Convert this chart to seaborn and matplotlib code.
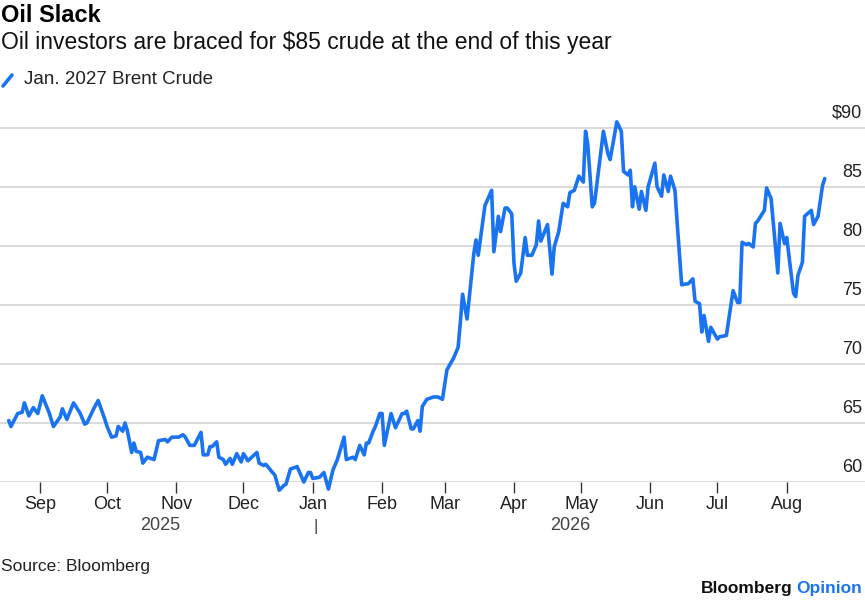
import numpy as np
import pandas as pd
import matplotlib
matplotlib.use("Agg")
import matplotlib.pyplot as plt
import matplotlib.transforms as mtransforms
import seaborn as sns

# === DATA: days since 2025-09-01 and Brent Jan-2027 price ===
day_offsets = [-14, -13, -10, -8, -7, -5, -3, -1, 1, 4, 6, 9, 10, 12, 15, 18, 20, 21, 24, 26,
               29, 30, 32, 34, 35, 37, 38, 39, 41, 42, 43, 45, 46, 48, 51, 53, 56, 57, 59, 62,
               64, 65, 67, 69, 72, 73, 75, 76, 77, 79, 80, 82, 83, 85, 86, 88, 90, 91, 93, 97,
               98, 100, 101, 104, 105, 107, 109, 110, 112, 115, 118, 120, 121, 122, 125, 127, 129, 131, 133, 136,
               137, 140, 141, 143, 145, 146, 147, 149, 150, 152, 153, 154, 157, 159, 162, 163, 164, 166, 167, 169,
               170, 171, 173, 176, 178, 180, 182, 185, 187, 188, 189, 191, 194, 195, 196, 199, 202, 203, 205, 206,
               208, 209, 211, 212, 213, 215, 217, 218, 220, 222, 223, 224, 227, 229, 230, 232, 234, 236, 237, 239,
               241, 243, 244, 245, 247, 248, 252, 254, 255, 258, 260, 261, 263, 264, 265, 266, 268, 269, 271, 272,
               275, 276, 278, 279, 281, 282, 284, 285, 287, 290, 292, 293, 295, 296, 297, 299, 300, 303, 304, 307,
               308, 310, 312, 313, 314, 316, 317, 319, 320, 321, 324, 325, 327, 330, 331, 333, 334, 337, 338, 339,
               341, 342, 345, 346, 348, 350, 351]
prices = [65.2, 64.7, 65.8, 65.9, 66.7, 65.6, 66.3, 65.8, 67.3, 65.9, 64.7, 65.5, 66.2, 65.3, 66.7, 65.8, 64.9, 65.0, 66.2, 66.9,
          65.3, 64.7, 63.8, 63.9, 64.7, 64.3, 65.0, 64.4, 62.5, 63.3, 62.6, 62.5, 61.6, 62.1, 61.9, 63.5, 63.6, 63.4, 63.8, 63.8,
          64.0, 63.8, 63.1, 63.1, 64.2, 62.3, 62.3, 63.0, 63.0, 63.4, 62.1, 61.9, 61.5, 62.0, 61.5, 62.4, 61.7, 62.4, 61.8, 62.5,
          61.6, 61.4, 61.5, 60.8, 60.6, 59.3, 59.7, 59.8, 61.1, 61.3, 60.0, 60.8, 60.8, 60.3, 60.4, 60.8, 59.4, 61.0, 61.9, 63.8,
          61.9, 62.1, 61.9, 63.1, 62.3, 63.3, 63.3, 64.3, 64.7, 65.8, 65.8, 63.1, 65.8, 64.6, 65.8, 65.8, 66.0, 64.5, 64.5, 65.2,
          64.3, 66.4, 67.0, 67.2, 67.2, 67.0, 69.5, 70.5, 71.4, 73.5, 75.9, 73.8, 79.3, 80.5, 79.2, 83.4, 84.7, 79.5, 82.5, 81.2,
          83.2, 83.2, 82.7, 78.5, 77.0, 77.7, 80.7, 79.2, 79.2, 80.1, 82.1, 80.4, 81.8, 77.6, 79.9, 81.2, 83.6, 83.3, 84.5, 84.7,
          85.9, 85.4, 89.7, 88.6, 83.3, 83.6, 89.7, 87.8, 87.3, 90.5, 89.7, 86.3, 86.0, 86.4, 83.3, 85.0, 83.1, 84.6, 83.0, 85.0,
          87.0, 85.0, 84.2, 86.0, 84.6, 85.9, 84.7, 81.9, 76.7, 76.8, 77.2, 75.3, 75.1, 72.7, 74.1, 71.9, 73.1, 72.1, 72.3, 72.4,
          73.7, 76.2, 75.2, 75.2, 80.3, 80.1, 80.2, 79.9, 81.9, 82.1, 83.0, 84.9, 84.0, 77.7, 81.9, 80.2, 80.7, 76.0, 75.7, 77.5,
          78.6, 82.5, 83.0, 81.8, 82.5, 85.1, 85.7]
y_ticks = [60, 65, 70, 75, 80, 85, 90]
y_labels = ["60", "65", "70", "75", "80", "85", "$90"]
month_labels = ["Sep", "Oct", "Nov", "Dec", "Jan", "Feb", "Mar", "Apr", "May", "Jun", "Jul", "Aug"]

START = pd.Timestamp("2025-09-01")
df = pd.DataFrame({"date": START + pd.to_timedelta(day_offsets, unit="D"), "price": prices})
month_starts = pd.date_range("2025-09-01", periods=12, freq="MS")

BLUE = "#1a73f0"
GRID = "#d4d4d4"

sns.set_theme(style="white")
plt.rcParams["font.family"] = ["Liberation Sans", "DejaVu Sans"]

fig = plt.figure(figsize=(8.65, 6.01), dpi=100)
W, H = 865, 601
ax = fig.add_axes([0, 1 - 482 / H, 1, (482 - 110) / H])

sns.lineplot(data=df, x="date", y="price", ax=ax, color=BLUE, linewidth=2.6, clip_on=False)

ax.set_xlim(START - pd.Timedelta(days=17.9), START + pd.Timedelta(days=369))
ax.set_ylim(60, 91.5)
for s in ax.spines.values():
    s.set_visible(False)
ax.set_yticks([])
for v in y_ticks:
    ax.axhline(v, color=GRID, lw=1.2, zorder=0)

blend = mtransforms.blended_transform_factory(ax.transAxes, ax.transData)
for v, lab in zip(y_ticks, y_labels):
    ax.text(0.997, v + 0.5, lab, transform=blend, ha="right", va="bottom", fontsize=13, color="#222222")

ax.set_xticks(month_starts)
ax.set_xticklabels(month_labels, fontsize=13, color="#222222")
ax.tick_params(axis="x", bottom=True, length=8, width=1, color="#333333", pad=2)
ax.set_xlabel("")
ax.set_ylabel("")

fig.text(160 / W, 1 - 526 / H, "2025", ha="center", va="center", fontsize=13, color="#444444")
fig.text(316 / W, 1 - 526 / H, "|", ha="center", va="center", fontsize=12, color="#444444")
fig.text(570 / W, 1 - 526 / H, "2026", ha="center", va="center", fontsize=13, color="#444444")

fig.text(1 / W, 1 - 15 / H, "Oil Slack", fontsize=17, fontweight="bold", va="center", color="black")
fig.text(1 / W, 1 - 43 / H, "Oil investors are braced for $85 crude at the end of this year",
         fontsize=16.5, va="center", color="#111111")
fig.lines.append(plt.Line2D([3 / W, 12 / W], [1 - 86 / H, 1 - 75 / H], color=BLUE, lw=2.6,
                            transform=fig.transFigure))
fig.text(24 / W, 1 - 80 / H, "Jan. 2027 Brent Crude", fontsize=13.5, va="center", color="#222222")
fig.text(1 / W, 1 - 566 / H, "Source: Bloomberg", fontsize=12.5, va="center", color="#222222")
fig.text(793 / W, 1 - 589 / H, "Bloomberg", fontsize=12.5, fontweight="bold", ha="right", va="center", color="#111111")
fig.text(796 / W, 1 - 589 / H, "Opinion", fontsize=12.5, fontweight="bold", ha="left", va="center", color=BLUE)

fig.savefig("out.png", dpi=100)
